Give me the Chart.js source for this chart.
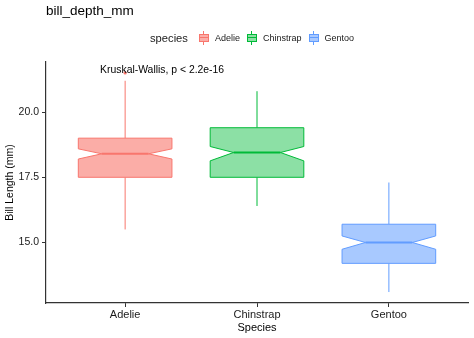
<!DOCTYPE html>
<html>
<head>
<meta charset="utf-8">
<script src="https://cdn.jsdelivr.net/npm/chart.js@4"></script>
<style>
    html, body { margin: 0; padding: 0; background: #fff; }
    #wrap { position: relative; width: 474px; height: 338px; font-family: 'Liberation Sans', Arial, sans-serif; }
    #chart { position: absolute; left: 0; top: 0; }
    #title { position: absolute; left: 46px; top: 3px; font-size: 13.5px; color: #000; }
    #legend { position: absolute; left: 150px; top: 30px; height: 16px; display: flex; align-items: center; font-size: 9px; color: #1a1a1a; white-space: nowrap; }
    #legend .lt { font-size: 11.2px; margin-right: 11px; }
    #legend .item { display: flex; align-items: center; margin-right: 7px; }
    .key { position: relative; width: 10px; height: 14px; margin-right: 6px; }
    .key b { position: absolute; left: 4.5px; top: 0; width: 1px; height: 14px; }
    .key i { position: absolute; left: 0; top: 3px; width: 8px; height: 6px; border: 1px solid; }
</style>
</head>
<body>
<div id="wrap">
    <canvas id="chart" width="474" height="338"></canvas>
    <div id="title">bill_depth_mm</div>
    <div id="legend"></div>
</div>
<script>
(function() {
    'use strict';

    // Data
    const species = ['Adelie', 'Chinstrap', 'Gentoo'];
    const whiskerLow = [15.5, 16.4, 13.1];
    const boxLow = [17.5, 17.5, 14.2];
    const notchLow = [18.2, 18.13, 14.74];
    const medians = [18.4, 18.45, 15.0];
    const notchHigh = [18.59, 18.68, 15.25];
    const boxHigh = [19.0, 19.4, 15.7];
    const whiskerHigh = [21.2, 20.8, 17.3];
    const outliers = [[21.5], [], []];
    const yTicks = [15.0, 17.5, 20.0];
    const testLabel = 'Kruskal-Wallis, p < 2.2e-16';

    const lineColors = ['#F8766D', '#00BA38', '#619CFF'];
    const fillColors = ['rgba(248, 118, 109, 0.6)', 'rgba(0, 186, 56, 0.45)', 'rgba(97, 156, 255, 0.55)'];
    const FONT = "'Liberation Sans', Arial, sans-serif";

    // Legend (html)
    const legend = document.getElementById('legend');
    legend.innerHTML = '<span class="lt">species</span>' + species.map(function(s, i) {
        return '<span class="item"><span class="key"><b style="background:' + lineColors[i] + '"></b>' +
            '<i style="border-color:' + lineColors[i] + ';background:linear-gradient(' +
            fillColors[i] + ' 2.5px,' + lineColors[i] + ' 2.5px,' + lineColors[i] + ' 3.5px,' + fillColors[i] + ' 3.5px),#fff"></i></span>' +
            s + '</span>';
    }).join('');

    // Notched boxes, whiskers and the test label
    const notchedBoxes = {
        id: 'notchedBoxes',
        afterDatasetsDraw: function(chart) {
            const ctx = chart.ctx;
            const y = chart.scales.y;
            const meta = chart.getDatasetMeta(0);
            meta.data.forEach(function(bar, i) {
                const cx = bar.x;
                const half = bar.width / 2;
                const l = cx - half, r = cx + half, n = bar.width / 4;
                ctx.save();
                ctx.strokeStyle = lineColors[i];
                ctx.lineWidth = 1;
                ctx.beginPath();
                ctx.moveTo(cx, y.getPixelForValue(boxHigh[i]));
                ctx.lineTo(cx, y.getPixelForValue(whiskerHigh[i]));
                ctx.moveTo(cx, y.getPixelForValue(boxLow[i]));
                ctx.lineTo(cx, y.getPixelForValue(whiskerLow[i]));
                ctx.stroke();

                const yq3 = y.getPixelForValue(boxHigh[i]);
                const yq1 = y.getPixelForValue(boxLow[i]);
                const ynh = y.getPixelForValue(notchHigh[i]);
                const ynl = y.getPixelForValue(notchLow[i]);
                const ym = y.getPixelForValue(medians[i]);
                ctx.beginPath();
                ctx.moveTo(l, yq3);
                ctx.lineTo(r, yq3);
                ctx.lineTo(r, ynh);
                ctx.lineTo(r - n, ym);
                ctx.lineTo(r, ynl);
                ctx.lineTo(r, yq1);
                ctx.lineTo(l, yq1);
                ctx.lineTo(l, ynl);
                ctx.lineTo(l + n, ym);
                ctx.lineTo(l, ynh);
                ctx.closePath();
                ctx.fillStyle = '#fff';
                ctx.fill();
                ctx.fillStyle = fillColors[i];
                ctx.fill();
                ctx.stroke();

                ctx.lineWidth = 2;
                ctx.beginPath();
                ctx.moveTo(l + n, ym);
                ctx.lineTo(r - n, ym);
                ctx.stroke();
                ctx.restore();
            });
        },
        afterDraw: function(chart) {
            const ctx = chart.ctx;
            ctx.save();
            ctx.font = '10.4px ' + FONT;
            ctx.fillStyle = '#000';
            ctx.textBaseline = 'middle';
            ctx.textAlign = 'left';
            ctx.fillText(testLabel, chart.scales.x.getPixelForValue(0.81), chart.scales.y.getPixelForValue(21.62));
            ctx.restore();
        }
    };

    const axisCommon = {
        border: { color: '#333', width: 1.2 }
    };

    new Chart(document.getElementById('chart'), {
        type: 'bar',
        data: {
            datasets: [
                {
                    type: 'bar',
                    data: species.map(function(s, i) { return { x: i + 1, y: [boxLow[i], boxHigh[i]] }; }),
                    backgroundColor: 'rgba(0, 0, 0, 0)',
                    borderWidth: 0,
                    barPercentage: 0.71,
                    categoryPercentage: 1
                },
                {
                    type: 'scatter',
                    data: outliers.flatMap(function(list, i) {
                        return list.map(function(v) { return { x: i + 1, y: v }; });
                    }),
                    pointRadius: 1.6,
                    pointBorderWidth: 0,
                    backgroundColor: outliers.flatMap(function(list, i) {
                        return list.map(function() { return lineColors[i]; });
                    })
                }
            ]
        },
        options: {
            responsive: false,
            animation: false,
            layout: { padding: { top: 62, right: 6, left: 0, bottom: 0 } },
            plugins: {
                legend: { display: false },
                tooltip: { enabled: false }
            },
            scales: {
                x: Object.assign({}, axisCommon, {
                    type: 'linear',
                    min: 0.4,
                    max: 3.6,
                    offset: false,
                    grid: { offset: false, drawOnChartArea: false, tickLength: 4, color: '#333', lineWidth: 1 },
                    afterBuildTicks: function(scale) {
                        scale.ticks = species.map(function(s, i) { return { value: i + 1 }; });
                    },
                    afterFit: function(scale) { scale.height = 35; },
                    ticks: {
                        autoSkip: false,
                        maxRotation: 0,
                        padding: 1,
                        color: '#1a1a1a',
                        font: { family: FONT, size: 11 },
                        callback: function(value) { return species[Math.round(value) - 1]; }
                    },
                    title: {
                        display: true,
                        text: 'Species',
                        color: '#000',
                        font: { family: FONT, size: 11 },
                        padding: { top: 0, bottom: 3 }
                    }
                }),
                y: Object.assign({}, axisCommon, {
                    min: 12.68,
                    max: 21.92,
                    grid: { drawOnChartArea: false, tickLength: 4, color: '#333', lineWidth: 1 },
                    afterBuildTicks: function(scale) {
                        scale.ticks = yTicks.map(function(v) { return { value: v }; });
                    },
                    afterFit: function(scale) { scale.width = 46; },
                    ticks: {
                        padding: 3,
                        color: '#1a1a1a',
                        font: { family: FONT, size: 10.5 },
                        callback: function(value) { return Number(value).toFixed(1); }
                    },
                    title: {
                        display: true,
                        text: 'Bill Length (mm)',
                        color: '#000',
                        font: { family: FONT, size: 10.5 },
                        padding: { top: 4, bottom: 0 }
                    }
                })
            }
        },
        plugins: [notchedBoxes]
    });
})();
</script>
</body>
</html>
